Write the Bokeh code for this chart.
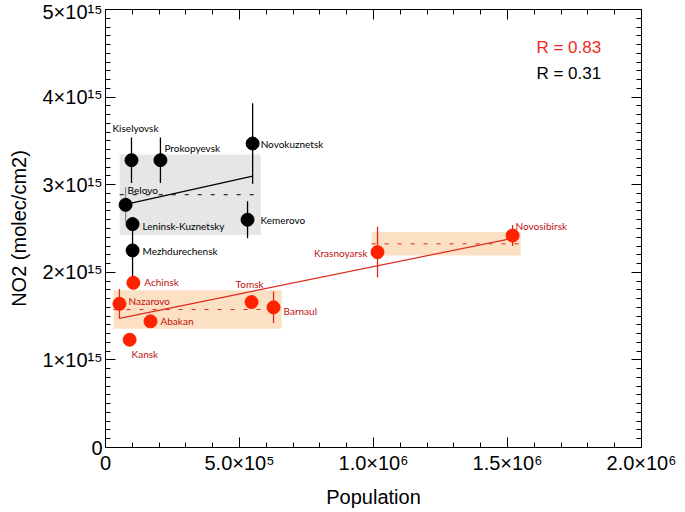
import numpy as np
from bokeh.plotting import figure
from bokeh.models import (Range1d, LinearAxis, FixedTicker, CustomJSTickFormatter,
                          ColumnDataSource, Label)
from bokeh.core.properties import value
from bokeh.embed import file_html
from bokeh.resources import INLINE

# ---------------- data ----------------
black_names = ["Kiselyovsk", "Prokopyevsk", "Novokuznetsk", "Belovo",
               "Leninsk-Kuznetsky", "Mezhdurechensk", "Kemerovo"]
black_pop = [97e3, 205e3, 549e3, 75e3, 101e3, 101e3, 530e3]
black_no2 = [3.28e15, 3.28e15, 3.47e15, 2.77e15, 2.55e15, 2.25e15, 2.60e15]
black_err = [0.26e15, 0.26e15, 0.46e15, 0.20e15, 0.08e15, 0.37e15, 0.21e15]

red_names = ["Achinsk", "Nazarovo", "Abakan", "Kansk", "Tomsk", "Barnaul",
             "Krasnoyarsk", "Novosibirsk"]
red_pop = [104e3, 52e3, 168e3, 90e3, 545e3, 627e3, 1015e3, 1519e3]
red_no2 = [1.88e15, 1.64e15, 1.44e15, 1.23e15, 1.66e15, 1.60e15, 2.23e15, 2.42e15]
red_err = [0.05e15, 0.17e15, 0.05e15, 0.05e15, 0.05e15, 0.18e15, 0.29e15, 0.12e15]
red_groups = ["small", "small", "small", "small", "small", "small", "large", "large"]

x_ticks = [0, 5e5, 1e6, 1.5e6, 2e6]
x_tick_labels = ["0", "5.0×10⁵", "1.0×10⁶", "1.5×10⁶", "2.0×10⁶"]
y_ticks = [0, 1e15, 2e15, 3e15, 4e15, 5e15]
y_tick_labels = ["0", "1×10¹⁵", "2×10¹⁵", "3×10¹⁵", "4×10¹⁵", "5×10¹⁵"]

# ---------------- style ----------------
black_label_dx = [4, 4, 8, 2, 10, 10, 13]
black_label_dy = [-32, -12, 0, -15, 2, 1, 0]
black_label_align = ["center", "left", "left", "left", "left", "left", "left"]
black_err_color = ["black", "black", "black", "#8a8a8a", "black", "black", "black"]

red_label_dx = [11, 9, 10, 2, -2, 10, -10, 3]
red_label_dy = [-1, -3, 0, 14, -18, 4, 1, -10]
red_label_align = ["left", "left", "left", "left", "center", "left", "right", "left"]

RED_DOT = "#ff2200"
RED_LINE = "#dd2a1a"
RED_TEXT = "#c00f0f"
GREY_BOX = "#e6e6e6"
PEACH_BOX = "#fce0c4"
AX_FONT = "Liberation Sans"
LBL_FONT = "Lato"
BOX_PAD_L, BOX_PAD_R = 0.022e6, 0.03e6

p = figure(width=685, height=512, x_range=Range1d(0, 2e6),
           y_range=Range1d(0, 5e15), output_backend="svg", toolbar_location=None,
           min_border_left=105, min_border_right=44, min_border_top=9,
           min_border_bottom=65)
p.xgrid.visible = False
p.ygrid.visible = False
p.outline_line_color = "black"
p.outline_line_width = 1
p.background_fill_color = "white"
p.border_fill_color = "white"

xb = p.below[0]
yl = p.left[0]

xt = FixedTicker(ticks=x_ticks, minor_ticks=list(np.arange(0, 2e6 + 1, 1e5)))
yt = FixedTicker(ticks=y_ticks, minor_ticks=list(np.arange(0, 5e15 + 1, 1e14)))

top = LinearAxis(ticker=xt, formatter=CustomJSTickFormatter(code="return ''"))
right = LinearAxis(ticker=yt, formatter=CustomJSTickFormatter(code="return ''"))
p.add_layout(top, "above")
p.add_layout(right, "right")

xb.ticker = xt
yl.ticker = yt
xb.major_label_overrides = dict(zip(x_ticks, x_tick_labels))
yl.major_label_overrides = dict(zip(y_ticks, y_tick_labels))

for ax in [xb, yl, top, right]:
    ax.major_tick_in = 10
    ax.major_tick_out = 0
    ax.minor_tick_in = 5
    ax.minor_tick_out = 0
    ax.axis_line_color = "black"
    ax.major_tick_line_color = "black"
    ax.minor_tick_line_color = "black"
    ax.major_label_text_font = AX_FONT
    ax.major_label_text_color = "black"
for ax in [top, right]:
    ax.major_label_text_font_size = "1px"
    ax.major_label_standoff = 0

xb.major_label_text_font_size = "20px"
yl.major_label_text_font_size = "20px"
xb.major_label_standoff = 4
yl.major_label_standoff = 3
xb.axis_label = "Population"
yl.axis_label = "NO2 (molec/cm2)"
for ax in [xb, yl]:
    ax.axis_label_text_font = AX_FONT
    ax.axis_label_text_font_size = "20px"
    ax.axis_label_text_font_style = "normal"
    ax.axis_label_text_color = "black"
xb.axis_label_standoff = 9
yl.axis_label_standoff = 10

# ---------------- boxes (mean ± std) ----------------
def group_box(pops, vals):
    pops = np.asarray(pops); vals = np.asarray(vals)
    m = vals.mean(); s = vals.std(ddof=1)
    return pops.min() - BOX_PAD_L, pops.max() + BOX_PAD_R, m, s

boxes = []
bl, br, bm, bs = group_box(black_pop, black_no2)
boxes.append((bl, br, bm, bs, GREY_BOX, "black"))
rp = np.array(red_pop); rn = np.array(red_no2); rg = np.array(red_groups)
for g in ["small", "large"]:
    l, r, m, s = group_box(rp[rg == g], rn[rg == g])
    boxes.append((l, r, m, s, PEACH_BOX, RED_LINE))

for l, r, m, s, fc, lc in boxes:
    p.quad(left=[l], right=[r], bottom=[m - s], top=[m + s], fill_color=fc,
           line_color=None)
for l, r, m, s, fc, lc in boxes:
    p.segment(x0=[l], y0=[m], x1=[r], y1=[m], line_color=lc, line_width=1,
              line_dash="4 9")

# ---------------- regression lines ----------------
def reg_line(pops, vals, color):
    pops = np.asarray(pops); vals = np.asarray(vals)
    k, b = np.polyfit(pops, vals, 1)
    xs = np.array([pops.min(), pops.max()])
    p.line(xs, k * xs + b, line_color=color, line_width=1.2)
    return np.corrcoef(pops, vals)[0, 1]

r_black = reg_line(black_pop, black_no2, "black")
r_red = reg_line(red_pop, red_no2, RED_LINE)

# ---------------- error bars ----------------
bn = np.array(black_no2); be = np.array(black_err)
p.segment(x0=black_pop, y0=bn - be, x1=black_pop, y1=bn + be,
          line_color=black_err_color, line_width=1.3)
re_ = np.array(red_err)
p.segment(x0=red_pop, y0=rn - re_, x1=red_pop, y1=rn + re_,
          line_color=RED_LINE, line_width=1.3)

# ---------------- points ----------------
p.scatter(black_pop, black_no2, size=13, fill_color="black", line_color="black")
p.scatter(red_pop, red_no2, size=13, fill_color=RED_DOT, line_color=RED_DOT)

# ---------------- labels ----------------
def add_labels(names, pops, vals, dxs, dys, aligns, color):
    for a in ["left", "center", "right"]:
        idx = [i for i, al in enumerate(aligns) if al == a]
        if not idx:
            continue
        src = ColumnDataSource(dict(
            x=[pops[i] for i in idx], y=[vals[i] for i in idx],
            t=[names[i] for i in idx], dx=[dxs[i] for i in idx],
            dy=[dys[i] for i in idx]))
        p.text(x="x", y="y", text="t", x_offset="dx", y_offset="dy", source=src,
               text_align=a, text_baseline="middle", text_color=color,
               text_font=value(LBL_FONT), text_font_size="10px")

add_labels(black_names, black_pop, black_no2, black_label_dx, black_label_dy,
           black_label_align, "black")
add_labels(red_names, red_pop, red_no2, red_label_dx, red_label_dy,
           red_label_align, RED_TEXT)

# ---------------- R values ----------------
p.add_layout(Label(x=1.608e6, y=4.57e15, text=f"R = {r_red:.2f}", text_color="#ee2a1a",
                   text_font=AX_FONT, text_font_size="17px", text_baseline="middle"))
p.add_layout(Label(x=1.608e6, y=4.27e15, text=f"R = {r_black:.2f}", text_color="black",
                   text_font=AX_FONT, text_font_size="17px", text_baseline="middle"))

open("out.html", "w").write(file_html(p, INLINE))
